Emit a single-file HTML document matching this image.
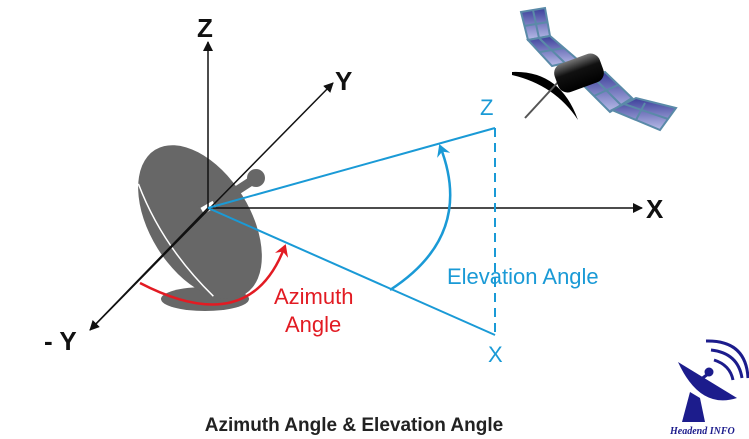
<!DOCTYPE html>
<html><head><style>
html,body{margin:0;padding:0;background:#fff;}
svg{display:block;font-family:"Liberation Sans",Arial,sans-serif;}
</style></head><body>
<svg width="749" height="439" viewBox="0 0 749 439" xmlns="http://www.w3.org/2000/svg">
<defs>
<marker id="ab" markerWidth="10" markerHeight="10" refX="9" refY="5" orient="auto" markerUnits="userSpaceOnUse"><path d="M0,0 L10,5 L0,10 z" fill="#111"/></marker>
<marker id="ablue" markerWidth="14" markerHeight="14" refX="10" refY="7" orient="auto" markerUnits="userSpaceOnUse"><path d="M0,0 L12,7 L0,14 L4,7 z" fill="#1a9ad6"/></marker>
<marker id="ared" markerWidth="14" markerHeight="14" refX="10" refY="7" orient="auto" markerUnits="userSpaceOnUse"><path d="M0,0 L12,7 L0,14 L4,7 z" fill="#e21b23"/></marker>
<linearGradient id="pn" x1="0" y1="0" x2="0" y2="1"><stop offset="0" stop-color="#3b3f9a"/><stop offset="1" stop-color="#b8bce8"/></linearGradient>
<linearGradient id="cyl" x1="0" y1="0" x2="0" y2="1"><stop offset="0" stop-color="#777"/><stop offset="0.4" stop-color="#111"/><stop offset="1" stop-color="#000"/></linearGradient>
</defs>

<!-- dish -->
<ellipse cx="205" cy="299" rx="44" ry="12" fill="#676767"/>
<g transform="rotate(-32 200 222)">
<ellipse cx="200" cy="222" rx="50" ry="85" fill="#676767"/>
<path d="M168,157 Q155,222 172,292" stroke="#fff" stroke-width="1.5" fill="none"/>
</g>
<line x1="210" y1="208" x2="250" y2="182" stroke="#676767" stroke-width="9"/>
<circle cx="256" cy="178" r="9" fill="#676767"/>
<rect x="200" y="203" width="16" height="9" fill="#fff" stroke="#676767" stroke-width="2" transform="rotate(-30 208 207)"/>

<!-- axes -->
<line x1="208" y1="208" x2="208" y2="42" stroke="#111" stroke-width="1.5" marker-end="url(#ab)"/>
<line x1="90" y1="330" x2="333" y2="83" stroke="#111" stroke-width="1.5" marker-end="url(#ab)"/>
<line x1="208" y1="208" x2="90" y2="330" stroke="#111" stroke-width="1.5" marker-end="url(#ab)"/>
<line x1="208" y1="208" x2="642" y2="208" stroke="#111" stroke-width="1.5" marker-end="url(#ab)"/>
<text x="197" y="37" font-size="26" font-weight="bold" fill="#111">Z</text>
<text x="335" y="90" font-size="26" font-weight="bold" fill="#111">Y</text>
<text x="44" y="350" font-size="26" font-weight="bold" fill="#111">- Y</text>
<text x="646" y="218" font-size="26" font-weight="bold" fill="#111">X</text>

<!-- blue -->
<line x1="208" y1="208" x2="495" y2="128" stroke="#1a9ad6" stroke-width="2"/>
<line x1="208" y1="208" x2="495" y2="335" stroke="#1a9ad6" stroke-width="2"/>
<line x1="495" y1="128" x2="495" y2="335" stroke="#1a9ad6" stroke-width="2" stroke-dasharray="9,6"/>
<path d="M390,290 Q475,235 440,146" stroke="#1a9ad6" stroke-width="2.5" fill="none" marker-end="url(#ablue)"/>
<text x="480" y="115" font-size="22" fill="#1a9ad6">Z</text>
<text x="488" y="362" font-size="22" fill="#1a9ad6">X</text>
<text x="447" y="284" font-size="22" fill="#1a9ad6">Elevation Angle</text>

<!-- red -->
<path d="M140,283 Q250,340 285,246" stroke="#e21b23" stroke-width="2.5" fill="none" marker-end="url(#ared)"/>
<text x="274" y="304" font-size="22" fill="#e21b23">Azimuth</text>
<text x="285" y="332" font-size="22" fill="#e21b23">Angle</text>

<!-- satellite -->
<g stroke="#5a8aa8" stroke-width="2">
<polygon points="521,12 545,8 550,36 528,40" fill="url(#pn)"/>
<polygon points="528,40 550,36 578,60 552,66" fill="url(#pn)"/>
<polygon points="578,80 605,72 632,98 610,112" fill="url(#pn)"/>
<polygon points="612,110 636,98 676,108 660,130" fill="url(#pn)"/>
<line x1="533" y1="10" x2="539" y2="38"/><line x1="524" y1="26" x2="548" y2="22"/>
<line x1="539" y1="38" x2="565" y2="63"/><line x1="540" y1="52" x2="564" y2="48"/>
<line x1="592" y1="76" x2="621" y2="105"/><line x1="594" y1="96" x2="618" y2="85"/>
<line x1="624" y1="104" x2="668" y2="119"/><line x1="645" y1="103" x2="636" y2="120"/>
</g>
<path d="M512,72 Q560,70 578,120 Q555,85 512,75 z" fill="#000"/>
<line x1="560" y1="80" x2="525" y2="118" stroke="#555" stroke-width="2"/>
<rect x="555" y="58" width="48" height="30" rx="10" fill="url(#cyl)" transform="rotate(-20 579 73)"/>

<!-- logo -->
<g fill="#1c1c8c" stroke="#1c1c8c">
<path d="M678,362 L737,398 Q700,410 678,362 z" stroke-width="0"/>
<path d="M690,392 L682,422 L705,422 L700,398 z" stroke-width="0"/>
<circle cx="709" cy="372" r="4"/>
<path d="M700,380 L708,374" stroke-width="3"/>
<path d="M714,360 Q730,365 733,380" fill="none" stroke-width="3"/>
<path d="M711,350 Q738,353 742,378" fill="none" stroke-width="3"/>
<path d="M706,341 Q746,340 748,378" fill="none" stroke-width="3"/>
</g>
<text x="670" y="434" font-size="10" font-style="italic" font-weight="bold" fill="#1c1c8c" font-family="Liberation Serif,serif">Headend INFO</text>

<text x="354" y="431" font-size="19" font-weight="bold" fill="#222" text-anchor="middle">Azimuth Angle &amp; Elevation Angle</text>
</svg>
</body></html>
